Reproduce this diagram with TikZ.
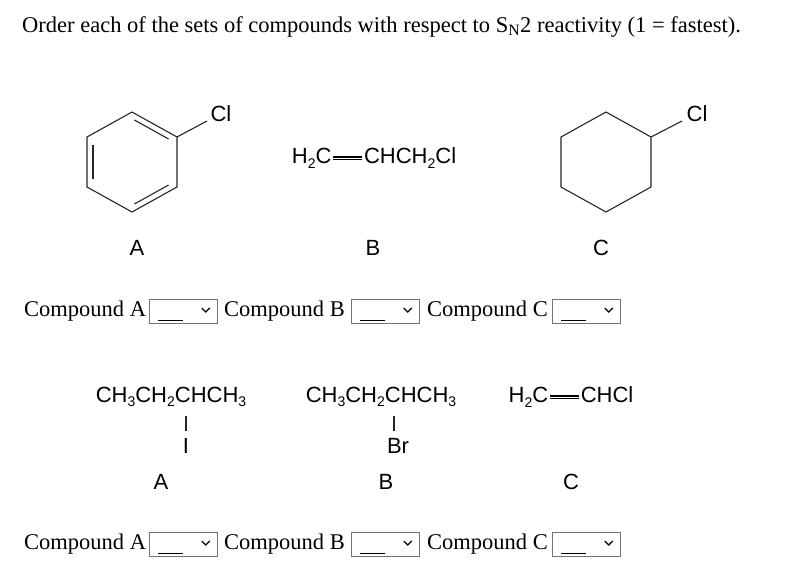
\documentclass[tikz,border=0pt]{standalone}
\usepackage{fontspec}
\usetikzlibrary{calc}
\setmainfont{Liberation Serif}
\newfontfamily\chem{Liberation Sans}
\newcommand\sbs[1]{\raisebox{-0.4ex}{\fontsize{14}{14}\selectfont #1}}
\newcommand\dbl{\kern2pt\rlap{\rule[0.52ex]{1.3em}{0.06em}}\rule[0.28ex]{1.3em}{0.06em}\kern2pt}
\begin{document}
\begin{tikzpicture}[x=1pt,y=-1pt,
  txt/.style={inner sep=0pt,font=\fontsize{22.5}{26}\selectfont},
  ch/.style={inner sep=0pt,font=\chem\fontsize{22}{24}\selectfont},
  bond/.style={line width=1.1pt,black!85},
  dd/.style={draw=black!55,line width=0.8pt,minimum width=68pt,minimum height=24pt,inner sep=0pt}]
\useasboundingbox[fill=white] (0,0) rectangle (786,586);
\node[txt,anchor=west] (title) at (22,27) {Order each of the sets of compounds with respect to S\textsubscript{N}2 reactivity (1 = fastest).};
% benzene
\coordinate (b1) at (132,112); \coordinate (b2) at (177,137); \coordinate (b3) at (177,187);
\coordinate (b4) at (132,212); \coordinate (b5) at (87,187); \coordinate (b6) at (87,137);
\draw[bond] (b1)--(b2)--(b3)--(b4)--(b5)--(b6)--cycle;
\draw[bond] ($(b1)!0.12!(b2)+(-3,5)$) -- ($(b1)!0.88!(b2)+(-3,5)$);
\draw[bond] (93,145) -- (93,179);
\draw[bond] ($(b3)!0.12!(b4)+(-3,-5)$) -- ($(b3)!0.88!(b4)+(-3,-5)$);
\node[ch] (clA) at (221,114) {Cl};
\draw[bond] (b2) -- (207,121);
\node[ch] (lA) at (137,248) {A};
% B
\node[ch] (mB) at (374,158) {H\sbs{2}C\dbl CHCH\sbs{2}Cl};
\node[ch] (lB) at (373,248) {B};
% cyclohexane
\coordinate (c1) at (606,112); \coordinate (c2) at (651,137); \coordinate (c3) at (651,187);
\coordinate (c4) at (606,212); \coordinate (c5) at (561,187); \coordinate (c6) at (561,137);
\draw[bond] (c1)--(c2)--(c3)--(c4)--(c5)--(c6)--cycle;
\draw[bond] (c2) -- (682,121);
\node[ch] (clC) at (697,114) {Cl};
\node[ch] (lC) at (601,248) {C};
% dropdown rows
\foreach \y/\r in {311/a,544/b}{
 \node[txt,anchor=west] (ca\r) at (24,\y) {Compound A};
 \node[dd,anchor=west] (da\r) at (149,\y) {};
 \node[txt,anchor=west] (cb\r) at (224,\y) {Compound B};
 \node[dd,anchor=west] (db\r) at (351,\y) {};
 \node[txt,anchor=west] (cc\r) at (427,\y) {Compound C};
 \node[dd,anchor=west] (dc\r) at (552,\y) {};
 \foreach \n in {da\r,db\r,dc\r}{
  \draw[line width=0.9pt] ($(\n.west)+(9,9)$) -- ($(\n.west)+(34,9)$);
  \draw[line width=1.3pt] ($(\n.east)+(-16,-3)$) -- ($(\n.east)+(-12,1)$) -- ($(\n.east)+(-8,-3)$);
 }
}
% row 2 structures
\node[ch] (m2a) at (171,397) {CH\sbs{3}CH\sbs{2}CHCH\sbs{3}};
\draw[bond] (186,416) -- (186,431);
\node[ch] (ia) at (186,446) {I};
\node[ch] (l2a) at (161,482) {A};
\node[ch] (m2b) at (381,397) {CH\sbs{3}CH\sbs{2}CHCH\sbs{3}};
\draw[bond] (394,416) -- (394,431);
\node[ch] (brb) at (398,446) {Br};
\node[ch] (l2b) at (386,482) {B};
\node[ch] (m2c) at (571,397) {H\sbs{2}C\dbl CHCl};
\node[ch] (l2c) at (571,482) {C};
\end{tikzpicture}
\end{document}
